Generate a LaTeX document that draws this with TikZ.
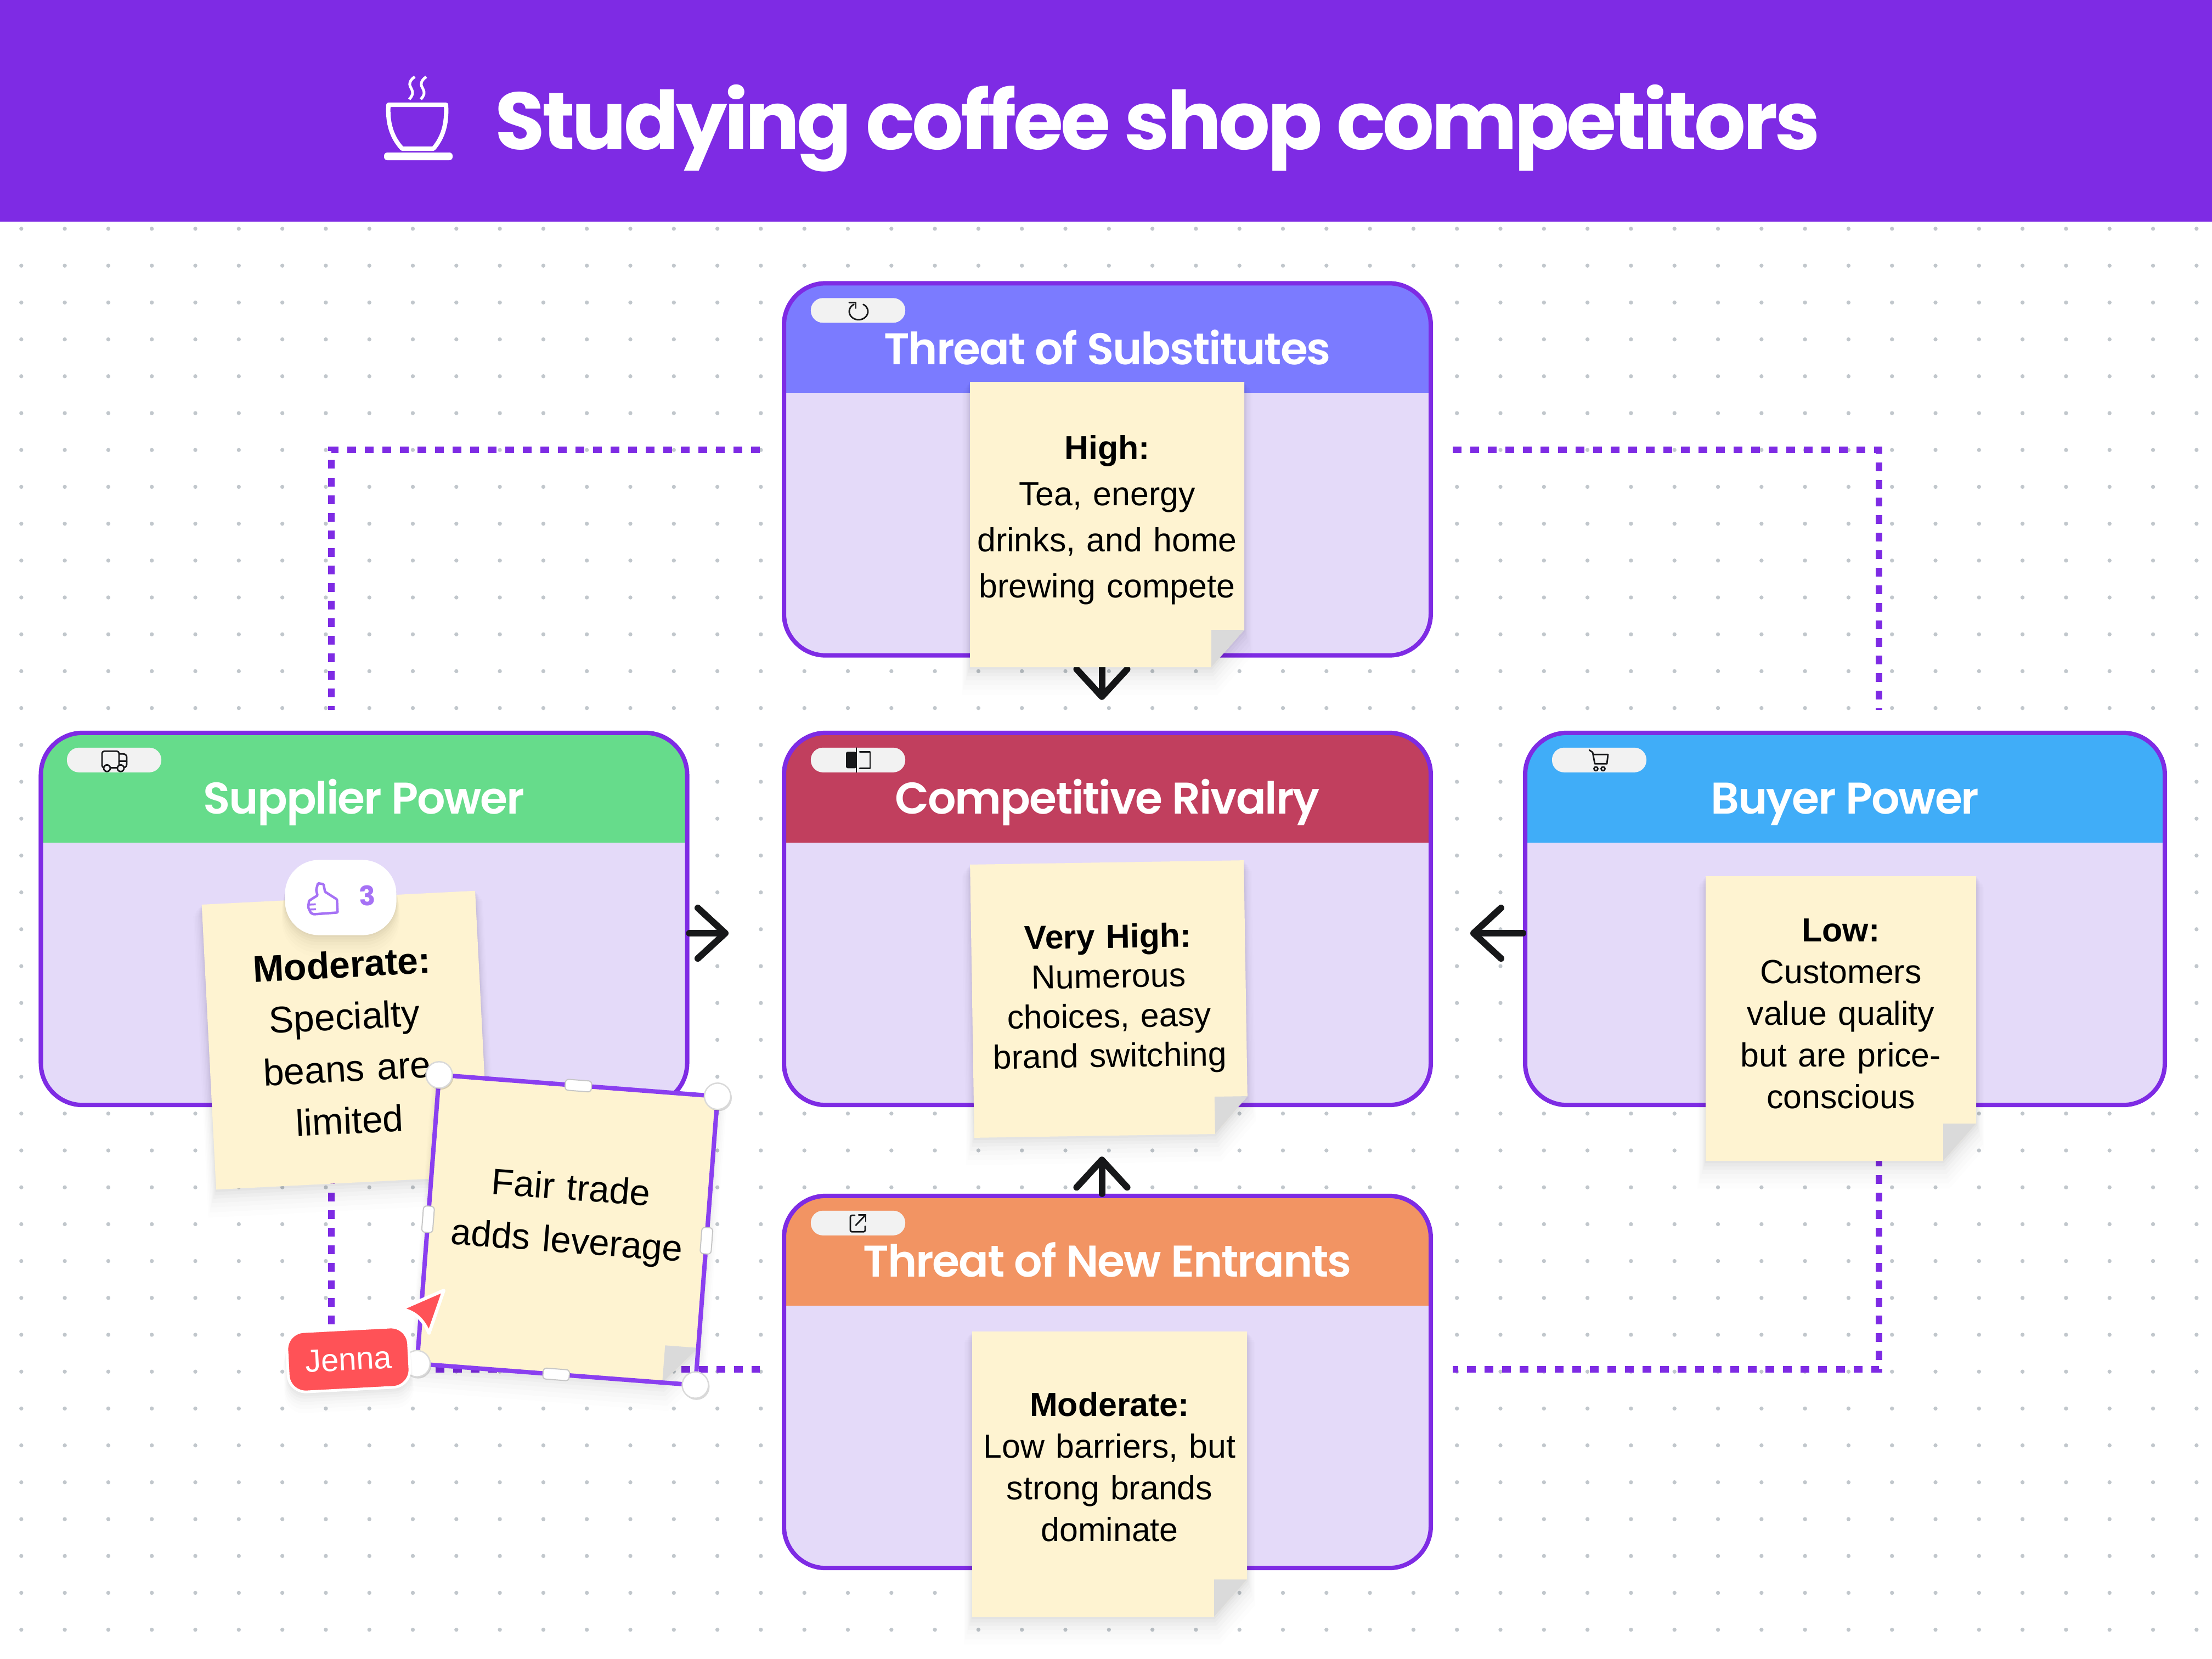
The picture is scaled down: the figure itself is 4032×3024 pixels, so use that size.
\documentclass[tikz,border=0pt]{standalone}
\usepackage{fontspec}
\setmainfont{Liberation Sans}
\newfontfamily\headfont{Poppins}[UprightFont=* SemiBold,LetterSpace=-2.6]
\newfontfamily\titlefont{Poppins}[UprightFont=* Bold,LetterSpace=-3.6]
\newfontfamily\countfont{Poppins}[UprightFont=* Bold]
\usetikzlibrary{arrows.meta,shadows}

\definecolor{bandpurple}{HTML}{7E2BE4}
\definecolor{cardbody}{HTML}{E4DAF9}
\definecolor{griddot}{HTML}{C1C7CC}
\definecolor{notecolor}{HTML}{FEF3D1}
\definecolor{foldcolor}{HTML}{DADADA}
\definecolor{selectcolor}{HTML}{8A3FF0}
\definecolor{jennared}{HTML}{FF5257}
\definecolor{thumbcolor}{HTML}{A672F5}
\definecolor{inkblack}{HTML}{17181A}
\definecolor{pillgrey}{HTML}{F2F2F2}
\definecolor{subscolor}{HTML}{7B7BFF}
\definecolor{rivalcolor}{HTML}{C13F5E}
\definecolor{supplycolor}{HTML}{66DC8B}
\definecolor{buyercolor}{HTML}{40ADF8}
\definecolor{entrycolor}{HTML}{F29463}

\tikzset{
  softshadow/.style={
    drop shadow={shadow xshift=0cm,shadow yshift=-.03cm,shadow scale=1.005,opacity=.025,fill=black},
    drop shadow={shadow xshift=0cm,shadow yshift=-.07cm,shadow scale=1.012,opacity=.02,fill=black},
    drop shadow={shadow xshift=0cm,shadow yshift=-.11cm,shadow scale=1.02,opacity=.018,fill=black},
    drop shadow={shadow xshift=0cm,shadow yshift=-.16cm,shadow scale=1.03,opacity=.015,fill=black},
    drop shadow={shadow xshift=0cm,shadow yshift=-.21cm,shadow scale=1.04,opacity=.012,fill=black},
    drop shadow={shadow xshift=0cm,shadow yshift=-.27cm,shadow scale=1.05,opacity=.01,fill=black},
    drop shadow={shadow xshift=0cm,shadow yshift=-.33cm,shadow scale=1.06,opacity=.008,fill=black}},
  cardbox/.style={draw=bandpurple,fill=cardbody,line width=.08cm,rounded corners=.76cm,
    minimum height=6.78cm,outer sep=0pt,inner sep=0pt},
  cardtitle/.style={anchor=base,text=white,inner sep=0pt,font=\headfont\fontsize{23}{27}\selectfont},
  pillbox/.style={fill=pillgrey,rounded corners=.22cm,minimum width=1.72cm,minimum height=.45cm,inner sep=0pt},
  iconline/.style={draw=inkblack,line width=.028cm,line cap=round,line join=round},
  dotlink/.style={draw=bandpurple,line width=.12cm,dash pattern=on .16cm off .16cm},
  flowarrow/.style={draw=inkblack,line width=.12cm,line cap=round,
    -{Straight Barb[round,length=.5cm,width=.92cm]}},
  notepaper/.style={fill=notecolor,softshadow},
  notefold/.style={fill=foldcolor},
  notetext/.style={text width=4.9cm,align=center,inner sep=0pt,text=black,transform shape},
  cornerhandle/.style={circle,fill=white,draw=black!15,line width=.025cm,minimum size=.48cm,inner sep=0pt,
    drop shadow={shadow xshift=.02cm,shadow yshift=-.03cm,opacity=.15,fill=black}},
  sidehandle/.style={fill=white,draw=black!22,line width=.02cm,rounded corners=.06cm,
    minimum width=.48cm,minimum height=.2cm,inner sep=0pt},
}

\begin{document}
\begin{tikzpicture}[x=.01cm,y=-.01cm]
  \useasboundingbox (0,0) rectangle (4032,3024);

  % Fondo de puntos
  \foreach \i in {0,...,50} {
    \foreach \j in {0,...,38} {
      \fill[griddot] (38.8+79.3*\i,417+67.2*\j) circle (.037cm);
    }
  }

  % Banda del titulo
  \node[fill=bandpurple,minimum width=40.32cm,minimum height=4.04cm,inner sep=0pt,outer sep=0pt] (band) at (2016,202) {};
  \node[anchor=base,text=white,inner sep=0pt,font=\titlefont\fontsize{42}{48}\selectfont] (maintitle) at (2110,272) {Studying coffee shop competitors};

  % Taza
  \draw[white,line width=.08cm,line join=round] (708,191) -- (813,191) .. controls (815,225) and (808,250) .. (790,271) -- (733,271) .. controls (714,250) and (706,225) .. (708,191) -- cycle;
  \fill[white,rounded corners=.06cm] (700,278) -- (825,278) -- (825,292) -- (700,292) -- cycle;
  \foreach \sx in {0,21} {
    \draw[white,line width=.05cm] (756+\sx,140) .. controls (744+\sx,148) and (746+\sx,156) .. (750+\sx,162) .. controls (754+\sx,170) and (752+\sx,174) .. (746+\sx,181);
  }

  % Tarjetas
  \foreach \name/\col/\cx/\cy/\cw/\po/\ttl in {
    subs/subscolor/2018.5/855.5/1179/135/Threat of Substitutes,
    rivalry/rivalcolor/2018.5/1675/1179/135/Competitive Rivalry,
    supplier/supplycolor/663.5/1675/1178/133.5/Supplier Power,
    buyer/buyercolor/3363/1675/1166/135/Buyer Power,
    entrants/entrycolor/2018.5/2519/1179/135/Threat of New Entrants} {
    \node[cardbox,minimum width=\cw*.01cm,
      path picture={\fill[\col,sharp corners] (path picture bounding box.north west) rectangle ([shift={(0,200)}]path picture bounding box.north east);}] (\name) at (\cx,\cy) {};
    \node[pillbox] (\name-pill) at ([shift={(\po,49.5)}]\name.north west) {};
    \node[cardtitle] (\name-title) at ([shift={(0,148)}]\name.north) {\ttl};
  }

  % Iconos
  \draw[iconline] ([shift={(9.5,-11)}]subs-pill.center) arc[start angle=60,end angle=-240,x radius=.17cm,y radius=.15cm];
  \draw[iconline] ([shift={(-16,-14)}]subs-pill.center) -- ([shift={(-4,-14)}]subs-pill.center) -- ([shift={(-4,-4)}]subs-pill.center);
  \fill[inkblack,rounded corners=.03cm] ([shift={(-22,-15)}]rivalry-pill.center) rectangle ([shift={(-3,15)}]rivalry-pill.center);
  \draw[iconline] ([shift={(-3,-22)}]rivalry-pill.center) -- ([shift={(-3,22)}]rivalry-pill.center);
  \draw[iconline] ([shift={(3,-15)}]rivalry-pill.center) -- ([shift={(22,-15)}]rivalry-pill.center) -- ([shift={(22,15)}]rivalry-pill.center) -- ([shift={(3,15)}]rivalry-pill.center);
  \draw[iconline,rounded corners=.04cm] ([shift={(-17,14)}]supplier-pill.center) -- ([shift={(-22,14)}]supplier-pill.center) -- ([shift={(-22,-16)}]supplier-pill.center) -- ([shift={(9,-16)}]supplier-pill.center) -- ([shift={(9,14)}]supplier-pill.center);
  \draw[iconline,rounded corners=.06cm] ([shift={(9,-11)}]supplier-pill.center) -- ([shift={(23,-11)}]supplier-pill.center) -- ([shift={(23,14)}]supplier-pill.center) -- ([shift={(19,14)}]supplier-pill.center);
  \draw[iconline] ([shift={(9,2)}]supplier-pill.center) -- ([shift={(23,2)}]supplier-pill.center);
  \draw[iconline] ([shift={(-8,14)}]supplier-pill.center) -- ([shift={(7,14)}]supplier-pill.center);
  \draw[iconline,fill=pillgrey] ([shift={(-13,15)}]supplier-pill.center) circle (.06cm);
  \draw[iconline,fill=pillgrey] ([shift={(12,15)}]supplier-pill.center) circle (.06cm);
  \draw[iconline] ([shift={(-18,-18)}]buyer-pill.center) -- ([shift={(-12,-14)}]buyer-pill.center) -- ([shift={(-8,7)}]buyer-pill.center) -- ([shift={(14,7)}]buyer-pill.center) -- ([shift={(16,-10)}]buyer-pill.center) -- ([shift={(-11,-10)}]buyer-pill.center);
  \draw[iconline] ([shift={(-6,16)}]buyer-pill.center) circle (.035cm);
  \draw[iconline] ([shift={(7,16)}]buyer-pill.center) circle (.035cm);
  \draw[iconline,rounded corners=.03cm] ([shift={(-6,-14)}]entrants-pill.center) -- ([shift={(-14,-14)}]entrants-pill.center) -- ([shift={(-14,16)}]entrants-pill.center) -- ([shift={(13,16)}]entrants-pill.center) -- ([shift={(13,6)}]entrants-pill.center);
  \draw[iconline] ([shift={(-4,4)}]entrants-pill.center) -- ([shift={(14,-15)}]entrants-pill.center);
  \draw[iconline] ([shift={(1,-15)}]entrants-pill.center) -- ([shift={(14,-15)}]entrants-pill.center) -- ([shift={(14,-3)}]entrants-pill.center);

  % Lineas punteadas
  \draw[dotlink] ([shift={(-44,-36)}]subs.west) -| ([shift={(-60,-42)}]supplier.north);
  \draw[dotlink] ([shift={(40,-36)}]subs.east) -| ([shift={(62,-42)}]buyer.north);
  \draw[dotlink] ([shift={(-60,0)}]supplier.south) |- ([shift={(-44,-23)}]entrants.west);
  \draw[dotlink] ([shift={(62,0)}]buyer.south) |- ([shift={(40,-23)}]entrants.east);

  % Flechas
  \draw[flowarrow] ([shift={(-10,4)}]subs.south) -- ([shift={(-10,-60)}]rivalry.north);
  \draw[flowarrow] ([shift={(-10,-4)}]entrants.north) -- ([shift={(-10,94)}]rivalry.south);
  \draw[flowarrow] ([shift={(4,26)}]supplier.east) -- ([shift={(-101,26)}]rivalry.west);
  \draw[flowarrow] ([shift={(-4,26)}]buyer.west) -- ([shift={(72,26)}]rivalry.east);

  % Notas
  \foreach \name/\cx/\cy/\ang/\nw/\nh/\ty/\fs/\ls/\txt in {
    subsnote/2018/956/0/500/520/-8/17.3/23.9/{\textbf{High:}\\Tea, energy\\drinks, and home\\brewing compete},
    rivalrynote/2021.5/1821/0.9/499/498/0/17.3/20.6/{\textbf{Very High:}\\Numerous\\choices, easy\\brand switching},
    buyernote/3355.5/1856.5/0/493/519/-9/17.3/21.6/{\textbf{Low:}\\Customers\\value quality\\but are price-\\conscious},
    entrantsnote/2022.5/2687/0/501/520/-13/17.3/21.6/{\textbf{Moderate:}\\Low barriers, but\\strong brands\\dominate},
    suppliernote/630/1896/2.9/499/520/4/19.3/27/{\textbf{Moderate:}\\Specialty\\beans are\\limited}} {
    \begin{scope}[shift={(\cx,\cy)},rotate=\ang]
      \fill[notepaper] (-\nw/2,-\nh/2) -- (\nw/2,-\nh/2) -- (\nw/2,\nh/2-68) -- (\nw/2-60,\nh/2) -- (-\nw/2,\nh/2) -- cycle;
      \fill[notefold] (\nw/2-60,\nh/2) -- (\nw/2-60,\nh/2-68) -- (\nw/2,\nh/2-68) -- cycle;
      \node[notetext,font=\fontsize{\fs}{\ls}\selectfont] (\name) at (0,\ty) {\txt};
    \end{scope}
  }

  % Pulgar
  \begin{scope}[shift={(621,1636)},rotate=2.9]
    \node[fill=white,rounded corners=.62cm,minimum width=2.03cm,minimum height=1.37cm,inner sep=0pt,softshadow] (thumbbadge) at (0,0) {};
    \draw[thumbcolor,line width=.045cm,line join=round,rounded corners=.012cm] (-7,27) -- (-7,3) -- (-28,-12) -- (-30,-26) -- (-40,-28) -- (-44,-16) -- (-42,-6) -- (-58,3) -- (-60,15) -- (-56,25) -- (-51,28) -- cycle;
    \draw[thumbcolor,line width=.035cm] (-58,10) -- (-46,10) (-57,19) -- (-46,19);
    \node[text=thumbcolor,inner sep=0pt,transform shape,font=\countfont\fontsize{14}{16}\selectfont] (thumbcount) at (49,-1) {3};
  \end{scope}

  % Nota seleccionada
  \begin{scope}[shift={(1034,2242)},rotate=-4.4]
    \fill[notepaper] (-254.5,-264) -- (254.5,-264) -- (254.5,196) -- (194,264) -- (-254.5,264) -- cycle;
    \fill[notefold] (194,264) -- (194,196) -- (254.5,196) -- cycle;
    \node[notetext,font=\fontsize{19}{27.5}\selectfont] (fairnote) at (1,-24) {Fair trade\\adds leverage};
    \draw[selectcolor,line width=.08cm] (-254.5,-264) rectangle (254.5,264);
    \foreach \hx/\hy in {-254.5/-264,254.5/-264,254.5/264,-254.5/264} {
      \node[cornerhandle] at (\hx,\hy) {};
    }
    \node[sidehandle,transform shape] (toph) at (0,-264) {};
    \node[sidehandle,transform shape] (bottomh) at (0,264) {};
    \node[sidehandle,transform shape,rotate=90] (lefth) at (-254.5,0) {};
    \node[sidehandle,transform shape,rotate=90] (righth) at (254.5,0) {};
  \end{scope}

  % Cursor y etiqueta
  \draw[white,fill=jennared,line width=.06cm,line join=round] (809,2352) -- (731,2386) .. controls (758,2391) and (772,2407) .. (782,2430) -- cycle;
  \node[fill=jennared,draw=white,line width=.05cm,rounded corners=.32cm,minimum width=2.22cm,minimum height=1.1cm,inner sep=0pt,rotate=3,text=white,softshadow,font=\fontsize{16.5}{18}\selectfont] (jenna) at (635,2478) {Jenna};
\end{tikzpicture}
\end{document}
